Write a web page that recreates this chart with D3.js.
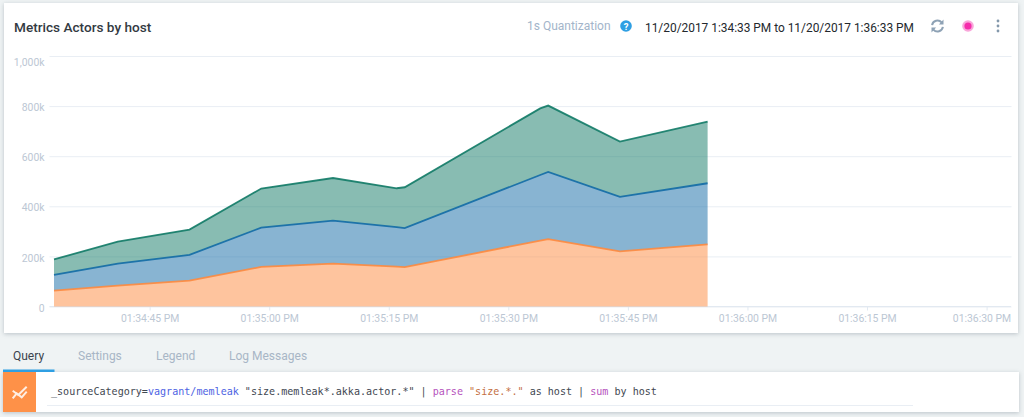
<!DOCTYPE html>
<html>
<head>
<meta charset="utf-8">
<title>Metrics Actors by host</title>
<script src="https://cdnjs.cloudflare.com/ajax/libs/d3/7.8.5/d3.min.js"></script>
<style>
  html, body { margin: 0; padding: 0; background: #eff3f4; overflow: hidden; }
  svg { display: block; font-family: Roboto, sans-serif; }
  .card { fill: #fff; filter: drop-shadow(0 1px 2px rgba(90, 105, 120, .35)); }
  .axis text { font-family: Roboto, sans-serif; font-size: 10.4px; fill: #bcc7d4; }
  .axis path { display: none; }
  .axis line { stroke: #e9eef4; }
  .axis.x line { stroke: #e2e9f1; }
  .query { font-family: "DejaVu Sans Mono", monospace; font-size: 10.07px; fill: #3f4852; }
</style>
</head>
<body>
<svg id="chart" width="1024" height="417"></svg>
<script>
// Data. Values in thousands, one entry per sample.
var sampleTimes = ["01:34:33 PM", "01:34:41 PM", "01:34:50 PM", "01:34:59 PM", "01:35:08 PM", "01:35:16 PM",
                   "01:35:17 PM", "01:35:34 PM", "01:35:35 PM", "01:35:44 PM", "01:35:55 PM"];
var hostOne   = [63, 83, 103, 158, 171, 159, 157, 263, 269, 220, 248];
var hostTwo   = [63, 88, 103, 157, 172, 158, 156, 262, 268, 218, 244];
var hostThree = [62, 88, 101, 156, 170, 155, 163, 266, 265, 220, 246];

var hostNames = ["hostOne", "hostTwo", "hostThree"];
var hostColors = ["#fe8a3e", "#116aa5", "#117a66"];

var yTicks = [0, 200, 400, 600, 800, 1000];
var yTickLabels = ["0", "200k", "400k", "600k", "800k", "1,000k"];
var xTicks = ["01:34:45 PM", "01:35:00 PM", "01:35:15 PM", "01:35:30 PM", "01:35:45 PM",
              "01:36:00 PM", "01:36:15 PM", "01:36:30 PM"];
var timeRange = ["01:34:33 PM", "01:36:33 PM"];

var tabNames = ["Query", "Settings", "Legend", "Log Messages"];
var tabLefts = [13, 78, 156, 229];

var queryParts = [
  ["_sourceCategory=", "#3f4852"],
  ["vagrant/memleak", "#4d63e3"],
  [" \"size.memleak*.akka.actor.*\" | ", "#3f4852"],
  ["parse", "#b653bd"],
  [" ", "#3f4852"],
  ["\"size.*.\"", "#c4703f"],
  [" as host | ", "#3f4852"],
  ["sum", "#b653bd"],
  [" by host", "#3f4852"]
];

var svg = d3.select("#chart");
var parseTime = d3.timeParse("%I:%M:%S %p");
var formatTime = d3.timeFormat("%I:%M:%S %p");

///////////////////////////////////////////////////////////////////////////////
// Panels

svg.append("rect").attr("class", "card")
  .attr("x", 4).attr("y", 3).attr("width", 1014).attr("height", 330);
svg.append("rect").attr("class", "card")
  .attr("x", 3).attr("y", 372).attr("width", 1016).attr("height", 40);

///////////////////////////////////////////////////////////////////////////////
// Scales and axes

var x = d3.scaleTime().domain(timeRange.map(parseTime)).range([54, 1010.5]);
var y = d3.scaleLinear().domain([0, 1000]).range([306.5, 56]);

var yAxis = svg.append("g").attr("class", "axis y")
  .attr("transform", "translate(49.5,0)")
  .call(d3.axisLeft(y)
    .tickValues(yTicks)
    .tickSize(-962)
    .tickPadding(5)
    .tickFormat(function (d, i) { return yTickLabels[i]; }));

// the top label sits below its gridline so it isn't clipped by the header
yAxis.selectAll(".tick text")
  .attr("dy", function (d) { return d === 1000 ? "0.9em" : "0.45em"; });

var xAxis = svg.append("g").attr("class", "axis x")
  .attr("transform", "translate(0,306.5)")
  .call(d3.axisBottom(x)
    .tickValues(xTicks.map(parseTime))
    .tickSize(4)
    .tickPadding(4)
    .tickFormat(formatTime));

xAxis.selectAll(".tick text")
  .filter(function (d, i) { return i === xTicks.length - 1; })
  .attr("text-anchor", "end")
  .attr("dx", "24");

xAxis.append("line").attr("x1", 49.5).attr("x2", 1011);

///////////////////////////////////////////////////////////////////////////////
// Stacked areas

var samples = sampleTimes.map(function (t, i) {
  return { time: parseTime(t), hostOne: hostOne[i], hostTwo: hostTwo[i], hostThree: hostThree[i] };
});

var layers = d3.stack().keys(hostNames)(samples);

var area = d3.area()
  .x(function (d) { return x(d.data.time); })
  .y0(function (d) { return y(d[0]); })
  .y1(function (d) { return y(d[1]); });

var topLine = d3.line()
  .x(function (d) { return x(d.data.time); })
  .y(function (d) { return y(d[1]); });

svg.append("g").selectAll("path").data(layers).enter().append("path")
  .attr("d", area)
  .attr("fill", function (d, i) { return hostColors[i]; })
  .attr("fill-opacity", 0.5);

svg.append("g").selectAll("path").data(layers).enter().append("path")
  .attr("d", topLine)
  .attr("fill", "none")
  .attr("stroke", function (d, i) { return hostColors[i]; })
  .attr("stroke-opacity", 0.9)
  .attr("stroke-width", 1.8);

///////////////////////////////////////////////////////////////////////////////
// Header

svg.append("text").text("Metrics Actors by host")
  .attr("x", 14).attr("y", 32)
  .attr("font-size", 13.6).attr("font-weight", 500).attr("fill", "#333a42");

svg.append("text").text("1s Quantization")
  .attr("x", 527).attr("y", 30)
  .attr("font-size", 12).attr("fill", "#a3b5ca");

svg.append("circle").attr("cx", 626).attr("cy", 26).attr("r", 5.8).attr("fill", "#2f9fe3");
svg.append("text").text("?")
  .attr("x", 626).attr("y", 29.5).attr("text-anchor", "middle")
  .attr("font-size", 9.5).attr("font-weight", 700).attr("fill", "#fff");

svg.append("text").text("11/20/2017 1:34:33 PM to 11/20/2017 1:36:33 PM")
  .attr("x", 645).attr("y", 32)
  .attr("font-size", 11.9).attr("fill", "#23282d");

// refresh icon
var refresh = svg.append("g").attr("transform", "translate(937.5,26)")
  .attr("fill", "none").attr("stroke", "#8ea2b5").attr("stroke-width", 2);
refresh.append("path").attr("d", "M-5.4,-0.8A5.5,5.5 0 0 1 4.1,-3.6");
refresh.append("path").attr("d", "M5.4,0.8A5.5,5.5 0 0 1 -4.1,3.6");
refresh.append("path").attr("d", "M6,-6.4V-1.6H1.4Z").attr("fill", "#8ea2b5").attr("stroke", "none");
refresh.append("path").attr("d", "M-6,6.4V1.6H-1.4Z").attr("fill", "#8ea2b5").attr("stroke", "none");

// live dot
svg.append("circle").attr("cx", 968).attr("cy", 26).attr("r", 5.8).attr("fill", "#f9a6da");
svg.append("circle").attr("cx", 968).attr("cy", 26).attr("r", 3.6).attr("fill", "#f52cab");

// kebab menu
svg.append("g").selectAll("circle").data([21, 26, 31]).enter().append("circle")
  .attr("cx", 998).attr("cy", function (d) { return d; })
  .attr("r", 1.4).attr("fill", "#8398ab");

///////////////////////////////////////////////////////////////////////////////
// Tabs and query bar

svg.append("g").selectAll("text").data(tabNames).enter().append("text")
  .text(function (d) { return d; })
  .attr("x", function (d, i) { return tabLefts[i]; })
  .attr("y", 360)
  .attr("font-size", 12)
  .attr("fill", function (d, i) { return i === 0 ? "#3a434d" : "#a8b6c6"; });

svg.append("rect").attr("x", 3).attr("y", 369.5).attr("width", 51.5).attr("height", 2.5).attr("fill", "#2f9fe3");
svg.append("rect").attr("x", 3).attr("y", 372).attr("width", 33).attr("height", 40).attr("fill", "#fe9148");

// query type icon
var queryIcon = svg.append("g").attr("transform", "translate(20,392)")
  .attr("fill", "none").attr("stroke", "#fff").attr("stroke-width", 2).attr("opacity", 0.85);
queryIcon.append("path").attr("d", "M-7.3,-1.3L-1.7,3L6.7,-5.3");
queryIcon.append("path").attr("d", "M-7.3,6.3L-3.3,1.3L1.7,5.3L6.7,-0.3");

var queryText = svg.append("text").attr("class", "query").attr("x", 51).attr("y", 395)
  .style("white-space", "pre");
queryText.selectAll("tspan").data(queryParts).enter().append("tspan")
  .text(function (d) { return d[0]; })
  .attr("fill", function (d) { return d[1]; });

svg.append("line").attr("x1", 47).attr("x2", 913).attr("y1", 405.5).attr("y2", 405.5)
  .attr("stroke", "#e9eef4");
</script>
</body>
</html>
